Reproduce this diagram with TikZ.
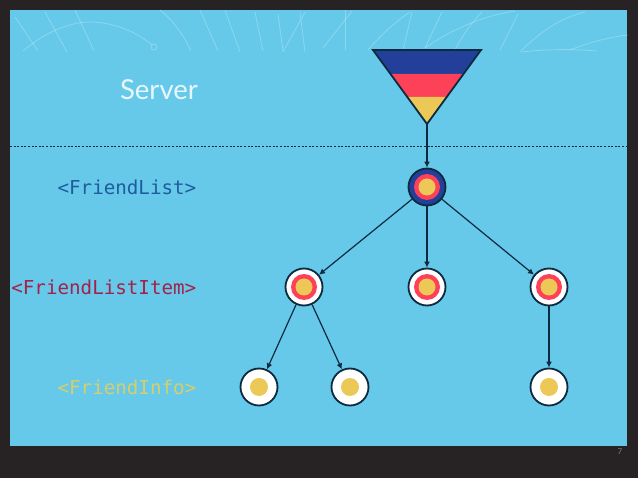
\documentclass[tikz,border=0pt]{standalone}
\usepackage{fontspec}
\setmainfont{Lato}
\newfontfamily\codefont{DejaVu Sans Mono}
\usetikzlibrary{arrows.meta}
\definecolor{panel}{HTML}{66C9EA}
\definecolor{frame}{HTML}{272324}
\definecolor{ink}{HTML}{0D2A3E}
\definecolor{rblue}{HTML}{22409A}
\definecolor{rred}{HTML}{FC4159}
\definecolor{ryellow}{HTML}{ECC857}
\definecolor{tblue}{HTML}{1F5C9E}
\definecolor{tred}{HTML}{A3224A}
\definecolor{tyellow}{HTML}{D6CE6C}
\tikzset{
  x=1pt,y=-1pt,
  decor/.style={draw=white,opacity=.25,line width=.8pt},
  bullseye/.style={circle,draw=ink,line width=1.8pt,minimum size=37pt,inner sep=0pt},
  fnode/.style={bullseye,fill=rblue,path picture={
     \fill[rred] (path picture bounding box.center) circle (13);
     \fill[ryellow] (path picture bounding box.center) circle (8.5);}},
  inode/.style={bullseye,fill=white,path picture={
     \fill[rred] (path picture bounding box.center) circle (13);
     \fill[ryellow] (path picture bounding box.center) circle (8.5);}},
  cnode/.style={bullseye,fill=white,path picture={
     \fill[ryellow] (path picture bounding box.center) circle (9);}},
  edge/.style={draw=ink,line width=1.2pt,-{Latex[length=6pt,width=6pt]}},
  code/.style={anchor=base east,font=\codefont\fontsize{19.2}{22}\selectfont,inner sep=0pt},
}
\begin{document}
\begin{tikzpicture}
\useasboundingbox (0,0) rectangle (638,478);
\fill[frame] (0,0) rectangle (638,478);
\fill[panel] (10,10) rectangle (627,446);
% background sketch lines
\begin{scope}[decor]
\draw (23,51) .. controls (50,28) and (75,22) .. (90,22) .. controls (115,22) and (138,33) .. (152,45);
\draw (154,47) circle (3);
\draw (15,17) -- (38,51);
\draw (45,12) -- (67,52);
\draw (75,10) -- (94,51);
\draw (160,10) .. controls (175,22) and (185,38) .. (191,51);
\draw (200,10) -- (218,51);
\draw (225,10) -- (240,52);
\draw (255,12) -- (263,51);
\draw (278,14) -- (283,51);
\draw (305,12) -- (283,52);
\draw (300,12) -- (305,52);
\draw (323,48) -- (352,11);
\draw (345,10) -- (345,50);
\draw (368,50) .. controls (380,36) and (395,22) .. (410,12);
\draw (403,50) -- (412,12);
\draw (425,48) -- (442,12);
\draw (425,48) .. controls (450,30) and (485,15) .. (515,11);
\draw (455,50) .. controls (462,36) and (472,22) .. (482,12);
\draw (500,50) -- (518,14);
\draw (520,52) .. controls (540,32) and (560,18) .. (585,12);
\draw (522,52) .. controls (545,49) and (575,49) .. (597,51);
\draw (570,50) .. controls (590,42) and (610,37) .. (628,35);
\end{scope}
% divider
\draw[ink,line width=1.1pt,dash pattern=on 2pt off 1.6pt] (10,146.5) -- (627,146.5);
% server triangle
\coordinate (tl) at (373,50);
\coordinate (tr) at (481,50);
\coordinate (apex) at (427,124);
\fill[rblue] (373,50) -- (481,50) -- (463.5,74) -- (390.5,74) -- cycle;
\fill[rred] (390.5,74) -- (463.5,74) -- (446.7,97) -- (407.3,97) -- cycle;
\fill[ryellow] (407.3,97) -- (446.7,97) -- (apex) -- cycle;
\draw[ink,line width=1.8pt,line join=miter] (tl) -- (tr) -- (apex) -- cycle;
% tree nodes
\node[fnode] (list) at (427,187) {};
\node[inode] (itemA) at (304,287) {};
\node[inode] (itemB) at (427,287) {};
\node[inode] (itemC) at (549,287) {};
\node[cnode] (infoA) at (259,387) {};
\node[cnode] (infoB) at (350,387) {};
\node[cnode] (infoC) at (549,387) {};
% connectors
\draw[edge] (apex) -- (list);
\draw[edge] (list) -- (itemA);
\draw[edge] (list) -- (itemB);
\draw[edge] (list) -- (itemC);
\draw[edge] (itemA) -- (infoA);
\draw[edge] (itemA) -- (infoB);
\draw[edge] (itemC) -- (infoC);
% labels
\node[anchor=base east,text=white,opacity=.85,font=\fontsize{27.5}{30}\selectfont,inner sep=0pt] (server) at (198,99.5) {Server};
\node[code,text=tblue] (lblList) at (196.5,195) {<FriendList>};
\node[code,text=tred] (lblItem) at (196.5,295) {<FriendListItem>};
\node[code,text=tyellow] (lblInfo) at (196.5,395) {<FriendInfo>};
\node[text=gray,font=\fontsize{8}{10}\selectfont,inner sep=0pt] (page) at (620,452) {7};
\end{tikzpicture}
\end{document}
